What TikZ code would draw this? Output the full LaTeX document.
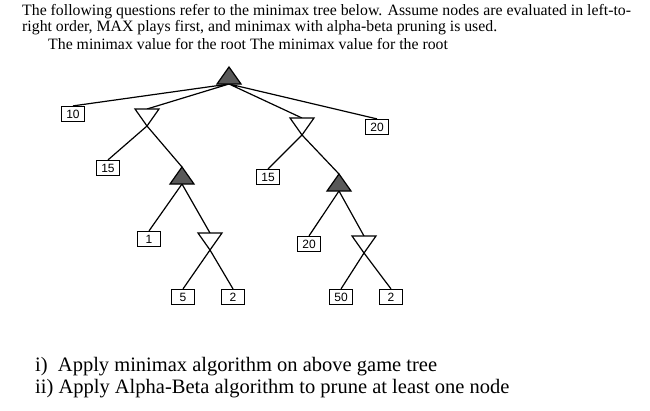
\documentclass[tikz,border=0pt]{standalone}
\usepackage{fontspec}
\setmainfont{Liberation Serif}
\newfontfamily\boxfont{Liberation Sans}
\tikzset{
  leaf/.style={draw,fill=white,line width=1.2pt,rectangle,minimum width=23pt,minimum height=15pt,inner sep=0pt,font=\boxfont\fontsize{12}{12}\selectfont},
  edge/.style={line width=1.2pt},
  txt/.style={anchor=west,inner sep=0pt,font=\fontsize{15.8}{15.8}\selectfont},
  qtxt/.style={anchor=west,inner sep=0pt,font=\fontsize{20.5}{20.5}\selectfont}
}
\newcommand{\maxnd}[3]{%
  \coordinate (#1-b) at (#2,#3+8);
  \coordinate (#1-t) at (#2,#3-9);
  \coordinate (#1-l) at (#2-12,#3+8);
  \coordinate (#1-r) at (#2+12,#3+8);}
\newcommand{\minnd}[3]{%
  \coordinate (#1-t) at (#2,#3-8);
  \coordinate (#1-b) at (#2,#3+9);
  \coordinate (#1-l) at (#2-12,#3-8);
  \coordinate (#1-r) at (#2+12,#3-8);}
\newcommand{\drawmax}[1]{\draw[line width=1.2pt,fill=gray!70!black] (#1-l)--(#1-t)--(#1-r)--cycle;}
\newcommand{\drawmin}[1]{\draw[line width=1.2pt,fill=white] (#1-l)--(#1-b)--(#1-r)--cycle;}
\begin{document}
\begin{tikzpicture}[x=1pt,y=-1pt]
\useasboundingbox (0,0) rectangle (650,410);
\node[txt] (l1) at (22,12) {The following questions refer to the minimax tree below. Assume nodes are evaluated in left-to-};
\node[txt] (l2) at (22,28) {right order, MAX plays first, and minimax with alpha-beta pruning is used.};
\node[txt] (l3) at (48,44) {The minimax value for the root The minimax value for the root};
\node[qtxt] (q1) at (35,367) {i)\ \ Apply minimax algorithm on above game tree};
\node[qtxt] (q2) at (35,389) {ii) Apply Alpha-Beta algorithm to prune at least one node};
\maxnd{r}{229}{76}
\minnd{m1}{147}{117}
\minnd{m2}{302}{126}
\maxnd{xl}{182}{176}
\maxnd{xr}{339}{183}
\minnd{nl}{210}{241}
\minnd{nr}{364}{244}
\node[leaf] (a10) at (73,114) {10};
\node[leaf] (a20) at (377,127) {20};
\node[leaf] (b15) at (108,168) {15};
\node[leaf] (c15) at (268,177) {15};
\node[leaf] (d1) at (149,239) {1};
\node[leaf] (d20) at (309,244) {20};
\node[leaf] (e5) at (183,297) {5};
\node[leaf] (e2) at (233,297) {2};
\node[leaf] (e50) at (341,297) {50};
\node[leaf] (e2b) at (391,297) {2};
\begin{scope}[on background layer/.style={}]
\draw[edge] (r-b)--(a10.north) (r-b)--(m1-t) (r-b)--(m2-t) (r-b)--(a20.north);
\draw[edge] (m1-b)--(b15.north) (m1-b)--(xl-t) (m2-b)--(c15.north) (m2-b)--(xr-t);
\draw[edge] (xl-b)--(d1.north) (xl-b)--(nl-t) (xr-b)--(d20.north) (xr-b)--(nr-t);
\draw[edge] (nl-b)--(e5.north) (nl-b)--(e2.north) (nr-b)--(e50.north) (nr-b)--(e2b.north);
\end{scope}
\drawmax{r}\drawmax{xl}\drawmax{xr}
\drawmin{m1}\drawmin{m2}\drawmin{nl}\drawmin{nr}
\foreach \n/\t in {a10/10,a20/20,b15/15,c15/15,d1/1,d20/20,e5/5,e2/2,e50/50,e2b/2}
  \node[leaf] at (\n) {\t};
\end{tikzpicture}
\end{document}
